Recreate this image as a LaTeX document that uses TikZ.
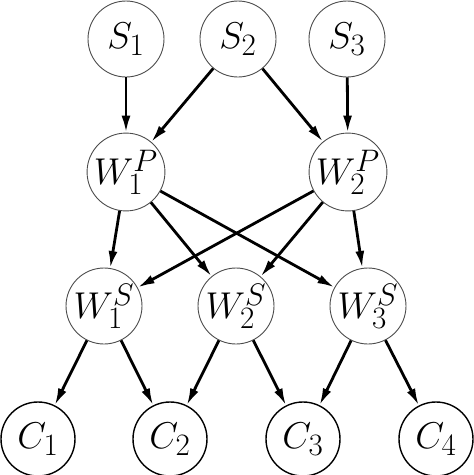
\documentclass[tikz,border=0pt]{standalone}
\usetikzlibrary{arrows.meta}
\newcommand{\biglbl}[1]{\scalebox{1.5}{\Huge$#1$}}
\begin{document}
\begin{tikzpicture}[x=1pt,y=-1pt,
  vnode/.style={circle,draw=black!70,line width=0.9pt,minimum size=76pt,inner sep=0pt},
  cnode/.style={vnode,draw=black,line width=1.4pt,minimum size=74pt},
  edge/.style={line width=2.8pt,-{Latex[length=17pt,width=9pt]},shorten <=0pt,shorten >=0pt}]
\useasboundingbox (0,0) rectangle (474,475);
\node[vnode] (s1) at (126,39) {\biglbl{S_1}};
\node[vnode] (s2) at (238,39) {\biglbl{S_2}};
\node[vnode] (s3) at (347,39) {\biglbl{S_3}};
\node[vnode] (wp1) at (126,172) {\biglbl{W_1^P}};
\node[vnode] (wp2) at (348,172) {\biglbl{W_2^P}};
\node[vnode] (ws1) at (104,306) {\biglbl{W_1^S}};
\node[vnode] (ws2) at (236,306) {\biglbl{W_2^S}};
\node[vnode] (ws3) at (368,306) {\biglbl{W_3^S}};
\node[cnode] (c1) at (38,439) {\biglbl{C_1}};
\node[cnode] (c2) at (170,439) {\biglbl{C_2}};
\node[cnode] (c3) at (303,439) {\biglbl{C_3}};
\node[cnode] (c4) at (436,439) {\biglbl{C_4}};
\draw[edge] (s1) -- (wp1);
\draw[edge] (s2) -- (wp1);
\draw[edge] (s2) -- (wp2);
\draw[edge] (s3) -- (wp2);
\draw[edge] (wp1) -- (ws1);
\draw[edge] (wp1) -- (ws2);
\draw[edge] (wp1) -- (ws3);
\draw[edge] (wp2) -- (ws1);
\draw[edge] (wp2) -- (ws2);
\draw[edge] (wp2) -- (ws3);
\draw[edge] (ws1) -- (c1);
\draw[edge] (ws1) -- (c2);
\draw[edge] (ws2) -- (c2);
\draw[edge] (ws2) -- (c3);
\draw[edge] (ws3) -- (c3);
\draw[edge] (ws3) -- (c4);
\end{tikzpicture}
\end{document}
